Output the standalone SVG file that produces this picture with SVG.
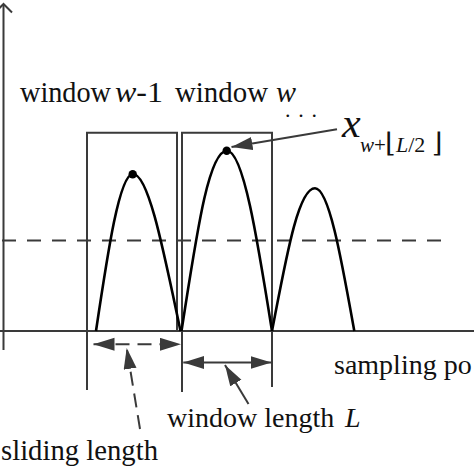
<svg xmlns="http://www.w3.org/2000/svg" width="474" height="474" viewBox="0 0 474 474">
<style>
.ax{stroke:#3a3a3a;stroke-width:2;fill:none}
.box{stroke:#3a3a3a;stroke-width:2;fill:none}
.curve{stroke:#000;stroke-width:2.6;fill:none;stroke-linejoin:round}
.dash{stroke:#3a3a3a;stroke-width:2;stroke-dasharray:14 11;fill:none}
.arr{stroke:#3a3a3a;stroke-width:2;fill:none;marker-end:url(#ah)}
.arr2{stroke:#3a3a3a;stroke-width:2;fill:none;marker-start:url(#ah);marker-end:url(#ah)}
.dasharr{stroke-dasharray:14 8}
.t{font-family:"Liberation Serif","Times New Roman",serif;font-size:30px;fill:#111}
.i{font-style:italic}
</style>
<defs>
<marker id="ah" markerUnits="userSpaceOnUse" markerWidth="22" markerHeight="14" refX="21" refY="6.5" orient="auto-start-reverse">
<path d="M0,0 L21,6.5 L0,13 z" fill="#3a3a3a"/>
</marker>
</defs>
<g id="axes">
<line class="ax" x1="3.5" y1="4" x2="3.5" y2="350"/>
<polyline class="ax" points="-5,12.5 3.5,4 12,12.5"/>
<line class="ax" x1="0" y1="331" x2="474" y2="331"/>
<line class="ax" x1="87" y1="331" x2="272" y2="331" stroke-width="3.2"/>
<line class="dash" x1="2" y1="240.5" x2="452" y2="240.5"/>
</g>
<g id="window-w-1">
<polyline class="box" points="87,390 87,132.7 177,132.7 177,331"/>
<path class="curve" d="M96,331 C108,250.6 119.5,174 133,174 C148.6,174 163.5,250.6 180.5,331"/>
<circle cx="132.7" cy="174.3" r="4.2" fill="#000"/>
</g>
<g id="window-w">
<polyline class="box" points="182,392 182,132.7 272,132.7 272,387"/>
<path class="curve" d="M181.5,331 C196,238.8 208,150.7 227,150.7 C243.3,150.7 257.3,238.8 272,331"/>
<circle cx="226.7" cy="150.7" r="4.2" fill="#000"/>
</g>
<g id="peak-next">
<path class="curve" d="M272,331 C286,258.6 298,188.3 315,188.3 C329,188.3 341.3,258.6 354.3,331"/>
</g>
<g id="labels">
<text class="t" x="20" y="102" textLength="91" lengthAdjust="spacingAndGlyphs">window</text>
<text class="t" x="115" y="102" textLength="48" lengthAdjust="spacingAndGlyphs"><tspan class="i">w</tspan>-1</text>
<text class="t" x="175" y="102" textLength="93" lengthAdjust="spacingAndGlyphs">window</text>
<text class="t" x="276" y="102"><tspan class="i">w</tspan><tspan x="285" y="116.5" style="font-size:22px;letter-spacing:7.8px">...</tspan></text>
<text class="t i" x="342" y="137" style="font-size:42px">x</text>
<text class="t" x="360" y="152" style="font-size:21px"><tspan class="i">w</tspan>+</text>
<text x="385" y="152" style="font-family:'DejaVu Serif',serif;font-size:27px;fill:#111">⌊</text>
<text class="t" x="396" y="152" style="font-size:22px"><tspan class="i">L</tspan>/2</text>
<text x="432" y="152" style="font-family:'DejaVu Serif',serif;font-size:27px;fill:#111">⌋</text>
<text class="t" x="334" y="374" style="font-size:28px">sampling po</text>
<text class="t" x="167" y="427" style="font-size:28px">window length<tspan class="i" x="345">L</tspan></text>
<text class="t" x="1" y="460" textLength="157" lengthAdjust="spacingAndGlyphs">sliding length</text>
</g>
<g id="connectors">
<line class="arr2 dasharr" x1="93.5" y1="344.3" x2="181" y2="344.3"/>
<line class="arr dasharr" x1="140" y1="429" x2="126.7" y2="348"/>
<line class="arr2" x1="183.3" y1="362.5" x2="271.5" y2="362.5"/>
<line class="arr" x1="248.5" y1="404" x2="225" y2="365"/>
<line class="arr" x1="337" y1="129.3" x2="231.5" y2="147"/>
</g>
</svg>
